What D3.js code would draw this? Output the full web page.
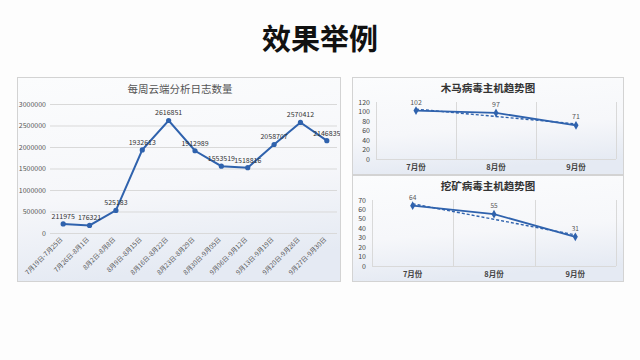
<!DOCTYPE html>
<html><head><meta charset="utf-8">
<script src="https://cdn.jsdelivr.net/npm/d3@7/dist/d3.min.js"></script>
<style>
html,body{margin:0;padding:0;background:#fdfdfd;}
svg{display:block;font-family:"Noto Sans CJK SC","Noto Sans",sans-serif;}
</style></head>
<body><svg id="c" width="640" height="360"></svg>
<script>
// ---- data ----
const weeks = ["7月19日-7月25日","7月26日-8月1日","8月2日-8月8日","8月9日-8月15日","8月16日-8月22日","8月23日-8月29日","8月30日-9月05日","9月06日-9月12日","9月13日-9月19日","9月20日-9月26日","9月27日-9月30日"];
const logCounts = [211975,176321,525183,1932613,2616851,1912989,1553519,1518816,2058707,2570412,2146835];
const logTicks = [0,500000,1000000,1500000,2000000,2500000,3000000];

const months = ["7月份","8月份","9月份"];
const trojanHosts = [102,97,71];
const trojanTrend = [105,74];   // dashed trend line (first & last month)
const trojanTicks = [0,20,40,60,80,100,120];
const minerHosts = [64,55,31];
const minerTrend = [66,33];
const minerTicks = [0,10,20,30,40,50,60,70];

const BLUE = "#2f62ad";
const svg = d3.select("#c");
const defs = svg.append("defs");
const g1 = defs.append("linearGradient").attr("id","pbg").attr("x1",0).attr("y1",0).attr("x2",0.2).attr("y2",1);
g1.append("stop").attr("offset","0%").attr("stop-color","#fbfcfd");
g1.append("stop").attr("offset","60%").attr("stop-color","#f6f7fa");
g1.append("stop").attr("offset","100%").attr("stop-color","#e5eaf3");

// big title
svg.append("text").attr("x",320).attr("y",50).attr("text-anchor","middle")
  .attr("font-size",29).attr("font-weight","bold").attr("fill","#111").text("效果举例");

// ---------- left panel ----------
svg.append("rect").attr("x",17.5).attr("y",77.5).attr("width",323).attr("height",204)
  .attr("fill","url(#pbg)").attr("stroke","#d3d3d3");
defs.append("clipPath").attr("id","clipL").append("rect").attr("x",18).attr("y",78).attr("width",322).attr("height",203);
const L = svg.append("g").attr("clip-path","url(#clipL)");
L.append("text").attr("x",180).attr("y",93).attr("text-anchor","middle").attr("font-size",10.5).attr("fill","#555").text("每周云端分析日志数量");

const xL = d3.scalePoint().domain(weeks).range([50,340]).padding(0.5);
const yL = d3.scaleLinear().domain([0,3000000]).range([233,104]);
L.selectAll(".gl").data(logTicks).join("line").attr("x1",50).attr("x2",337)
  .attr("y1",d=>yL(d)+0.5).attr("y2",d=>yL(d)+0.5).attr("stroke","#d9d9d9").attr("stroke-width",1);
L.selectAll(".yl").data(logTicks).join("text").attr("x",46).attr("y",d=>yL(d)+2.5)
  .attr("text-anchor","end").attr("font-size",7).attr("fill","#555").text(d=>d);
L.selectAll(".xl").data(weeks).join("text")
  .attr("transform",d=>`translate(${xL(d)},240) rotate(-45)`)
  .attr("text-anchor","end").attr("font-size",6.5).attr("fill","#555").text(d=>d);
const lineL = d3.line().x((d,i)=>xL(weeks[i])).y(d=>yL(d));
L.append("path").datum(logCounts).attr("d",lineL).attr("fill","none").attr("stroke",BLUE).attr("stroke-width",2);
L.selectAll(".pt").data(logCounts).join("circle").attr("cx",(d,i)=>xL(weeks[i])).attr("cy",d=>yL(d)).attr("r",2.6).attr("fill",BLUE);
L.selectAll(".dl").data(logCounts).join("text").attr("x",(d,i)=>xL(weeks[i])).attr("y",d=>yL(d)-5)
  .attr("text-anchor","middle").attr("font-size",7).attr("fill","#333").text(d=>d);

// ---------- right panels ----------
function smallChart(cfg){
  svg.append("rect").attr("x",352.5).attr("y",cfg.top+0.5).attr("width",271).attr("height",cfg.h)
    .attr("fill","url(#pbg)").attr("stroke","#d3d3d3");
  svg.append("text").attr("x",488).attr("y",cfg.top+15).attr("text-anchor","middle")
    .attr("font-size",10.5).attr("font-weight","bold").attr("fill","#333").text(cfg.title);
  const x = d3.scaleBand().domain(months).range([cfg.x0,616]);
  const y = d3.scaleLinear().domain([0,cfg.max]).range([cfg.y0,cfg.y1]);
  const g = svg.append("g");
  const bounds = months.map(m=>x(m)).concat([616]);
  g.selectAll(".vb").data(bounds).join("line").attr("x1",d=>Math.round(d)+0.5).attr("x2",d=>Math.round(d)+0.5)
    .attr("y1",y(cfg.max)).attr("y2",cfg.y0).attr("stroke","#d9d9d9");
  g.append("line").attr("x1",cfg.x0).attr("x2",616).attr("y1",cfg.y0+0.5).attr("y2",cfg.y0+0.5).attr("stroke","#d9d9d9");
  g.selectAll(".yl").data(cfg.ticks).join("text").attr("x",cfg.x0-6).attr("y",d=>y(d)+2.5)
    .attr("text-anchor","end").attr("font-size",7).attr("fill","#444").text(d=>d);
  g.selectAll(".xl").data(months).join("text").attr("x",d=>x(d)+x.bandwidth()/2).attr("y",cfg.y0+11)
    .attr("text-anchor","middle").attr("font-size",7.5).attr("font-weight","bold").attr("fill","#444").text(d=>d);
  const cx = i=>x(months[i])+x.bandwidth()/2;
  g.append("line").attr("x1",cx(0)).attr("x2",cx(2)).attr("y1",y(cfg.trend[0])).attr("y2",y(cfg.trend[1]))
    .attr("stroke",BLUE).attr("stroke-width",1.4).attr("stroke-dasharray","3,2");
  g.append("path").datum(cfg.data).attr("d",d3.line().x((d,i)=>cx(i)).y(d=>y(d)))
    .attr("fill","none").attr("stroke",BLUE).attr("stroke-width",1.8);
  g.selectAll(".pt").data(cfg.data).join("path")
    .attr("transform",(d,i)=>`translate(${cx(i)},${y(d)})`)
    .attr("d",d3.symbol(d3.symbolDiamond,22)).attr("fill",BLUE);
  g.selectAll(".dl").data(cfg.data).join("text").attr("x",(d,i)=>cx(i)).attr("y",d=>y(d)-6)
    .attr("text-anchor","middle").attr("font-size",cfg.lfs).attr("fill","#555").text(d=>d);
}
smallChart({top:77,h:97,title:"木马病毒主机趋势图",x0:376,y0:159,y1:102,max:120,ticks:trojanTicks,data:trojanHosts,trend:trojanTrend,lfs:7});
smallChart({top:175,h:106,title:"挖矿病毒主机趋势图",x0:372,y0:266,y1:200,max:70,ticks:minerTicks,data:minerHosts,trend:minerTrend,lfs:6.5});
</script></body></html>
